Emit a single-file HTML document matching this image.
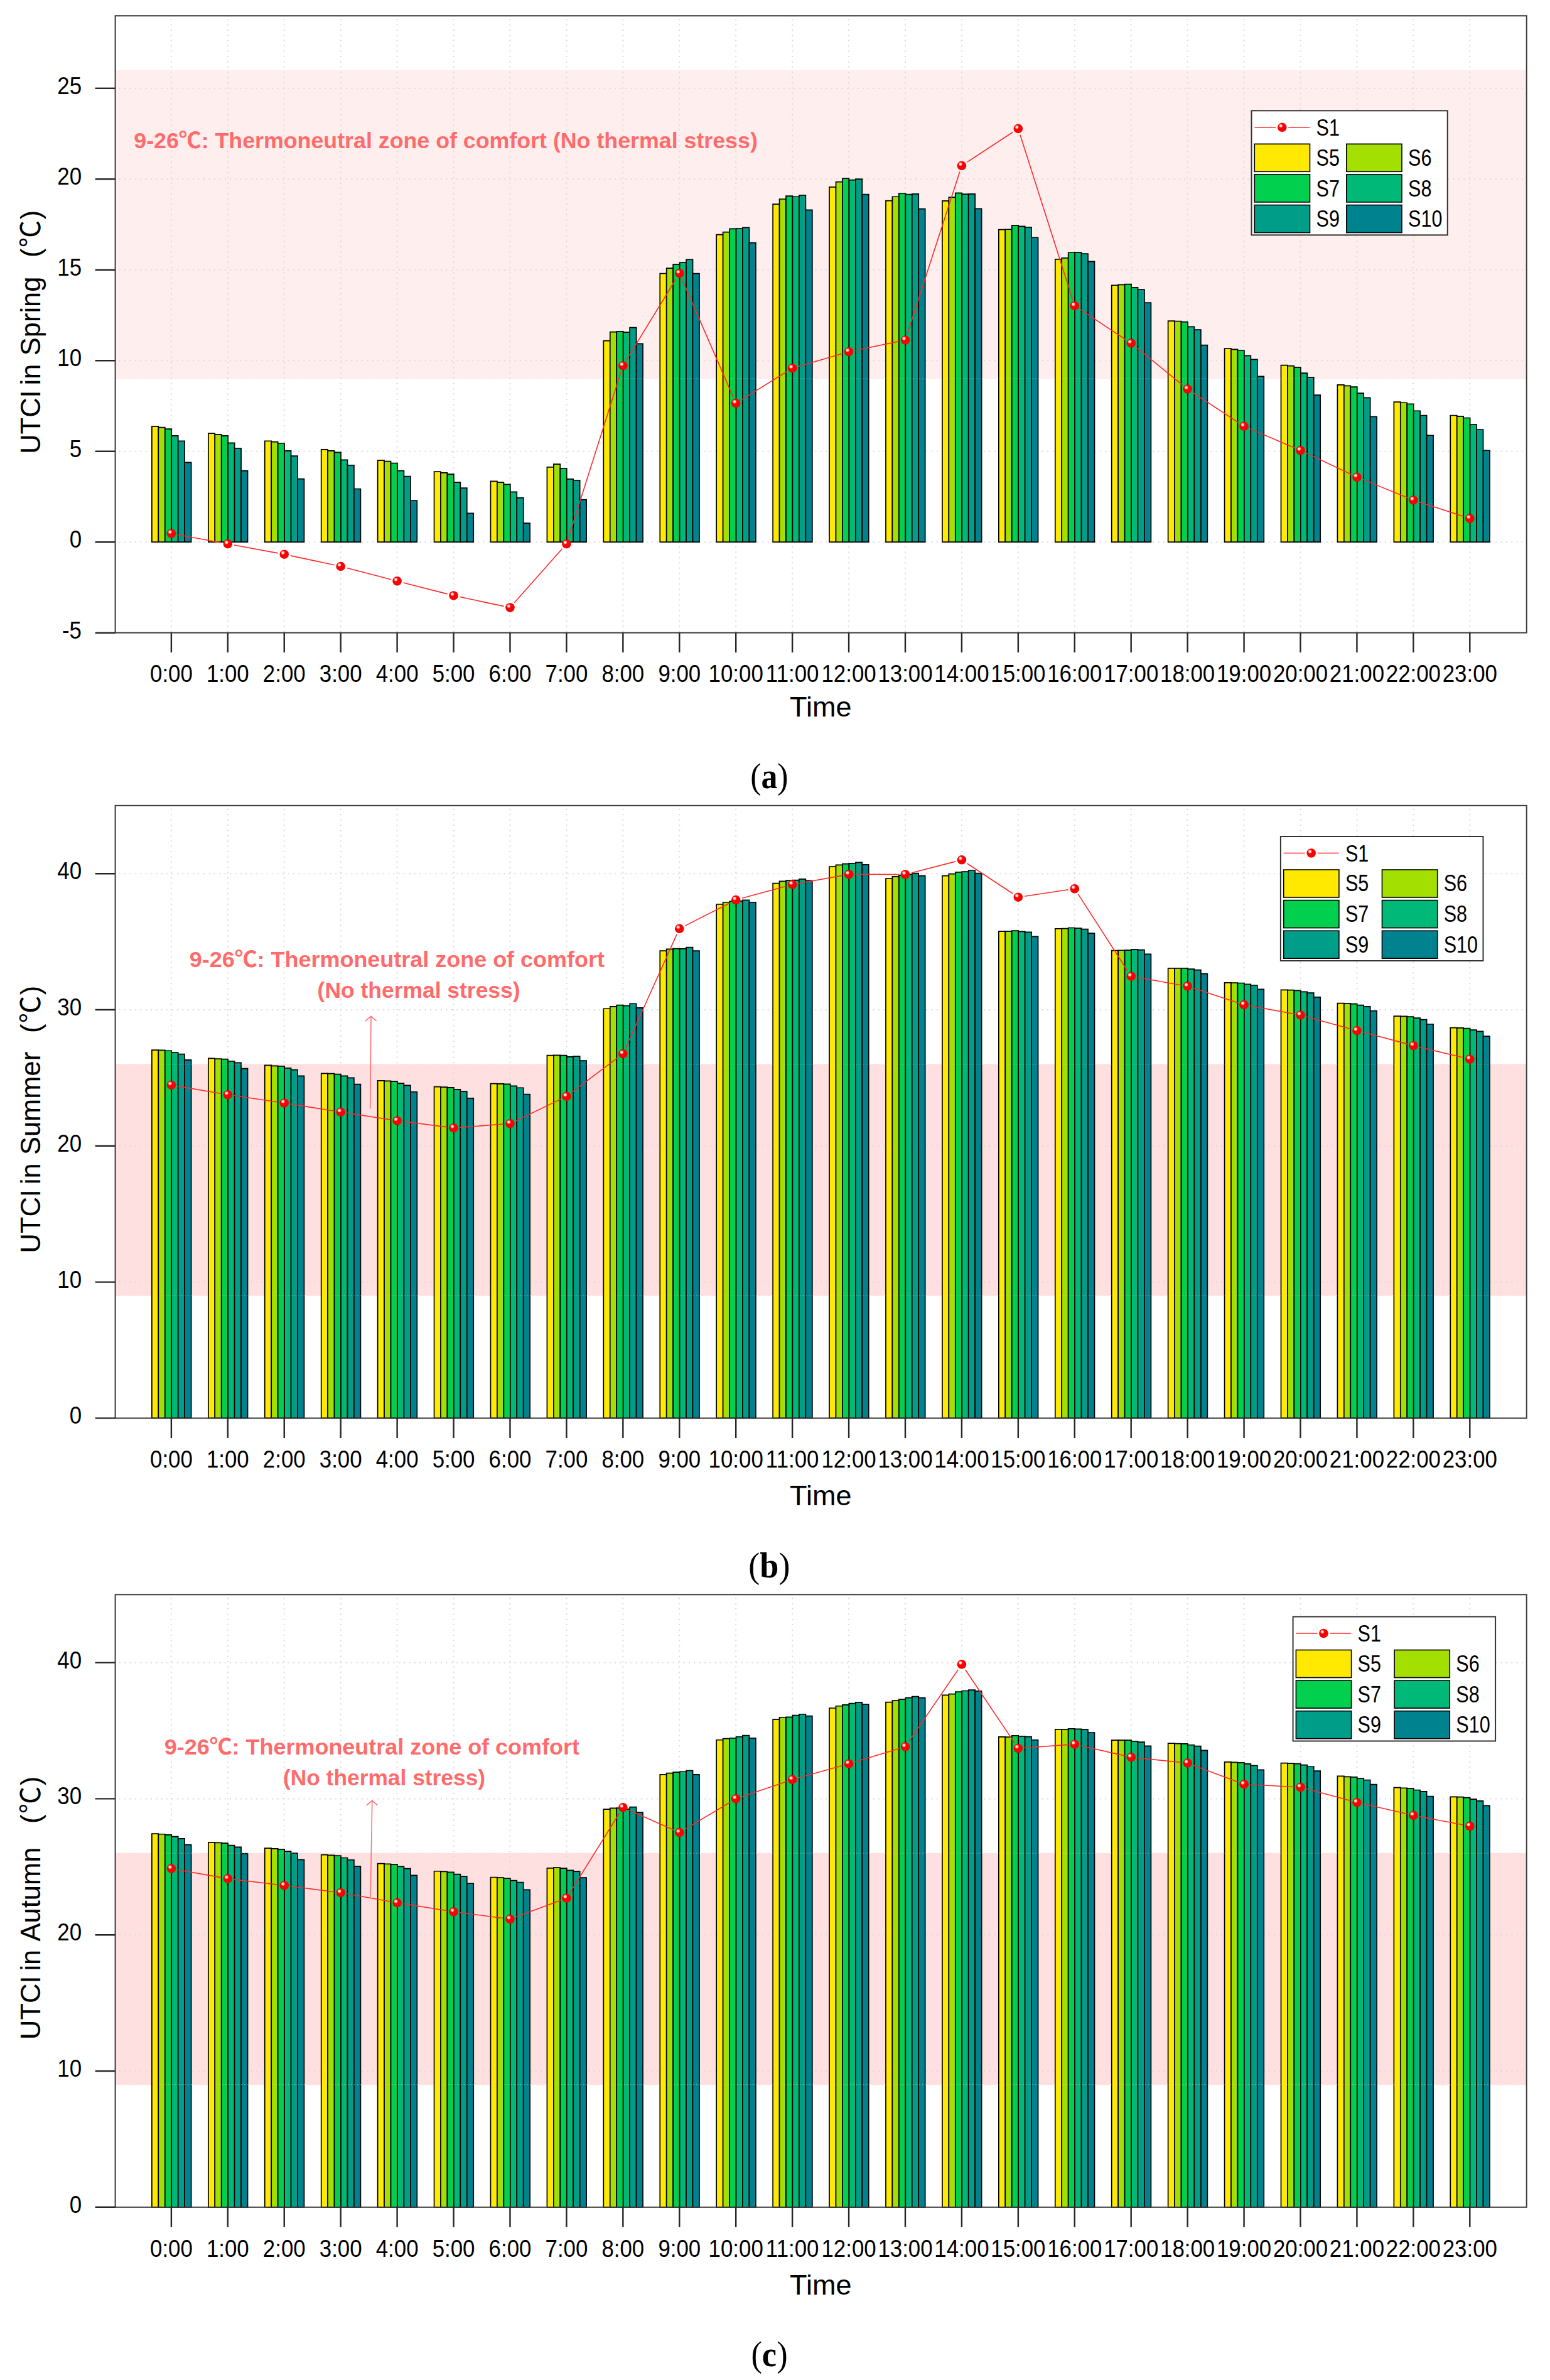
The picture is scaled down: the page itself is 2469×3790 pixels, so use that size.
<!DOCTYPE html>
<html lang="en"><head><meta charset="utf-8"><title>UTCI charts</title>
<style>html,body{margin:0;padding:0;background:#fff}svg{display:block}</style></head><body>
<svg width="2469" height="3790" viewBox="0 0 2469 3790">
<defs>
<radialGradient id="hl" cx="0.5" cy="0.5" r="0.5"><stop offset="0" stop-color="#fff" stop-opacity="1"/><stop offset="0.45" stop-color="#fff" stop-opacity="0.85"/><stop offset="1" stop-color="#fff" stop-opacity="0"/></radialGradient>
</defs>
<rect width="2469" height="3790" fill="#fff"/>
<g>
<rect x="183.6" y="111.8" width="2248.1" height="491.3" fill="#FFEEEE"/>
<path d="M272.9 30.2V1007.6M362.83 30.2V1007.6M452.76 30.2V1007.6M542.69 30.2V1007.6M632.62 30.2V1007.6M722.55 30.2V1007.6M812.48 30.2V1007.6M902.41 30.2V1007.6M992.34 30.2V1007.6M1082.27 30.2V1007.6M1172.2 30.2V1007.6M1262.13 30.2V1007.6M1352.06 30.2V1007.6M1441.99 30.2V1007.6M1531.92 30.2V1007.6M1621.85 30.2V1007.6M1711.78 30.2V1007.6M1801.71 30.2V1007.6M1891.64 30.2V1007.6M1981.57 30.2V1007.6M2071.5 30.2V1007.6M2161.43 30.2V1007.6M2251.36 30.2V1007.6M2341.29 30.2V1007.6M189.6 863.2H2431.7M189.6 718.7H2431.7M189.6 574.2H2431.7M189.6 429.7H2431.7M189.6 285.2H2431.7M189.6 140.7H2431.7" stroke="#d9d9d9" stroke-width="2" stroke-dasharray="2 6.4" fill="none"/>
<path d="M241.9 863.2V678.82H252.35V863.2ZM331.83 863.2V690.09H342.28V863.2ZM421.76 863.2V702.23H432.21V863.2ZM511.69 863.2V715.81H522.14V863.2ZM601.62 863.2V733.15H612.07V863.2ZM691.55 863.2V751.07H702V863.2ZM781.48 863.2V766.38H791.93V863.2ZM871.41 863.2V743.84H881.86V863.2ZM961.34 863.2V542.7H971.79V863.2ZM1051.27 863.2V435.48H1061.72V863.2ZM1141.2 863.2V373.63H1151.65V863.2ZM1231.13 863.2V325.08H1241.58V863.2ZM1321.06 863.2V297.92H1331.51V863.2ZM1410.99 863.2V319.59H1421.44V863.2ZM1500.92 863.2V319.88H1511.37V863.2ZM1590.85 863.2V365.54H1601.3V863.2ZM1680.78 863.2V412.94H1691.23V863.2ZM1770.71 863.2V454.27H1781.16V863.2ZM1860.64 863.2V511.2H1871.09V863.2ZM1950.57 863.2V555.13H1961.02V863.2ZM2040.5 863.2V581.71H2050.95V863.2ZM2130.43 863.2V612.93H2140.88V863.2ZM2220.36 863.2V640.09H2230.81V863.2ZM2310.29 863.2V661.48H2320.74V863.2Z" fill="#FFE900" stroke="#000" stroke-width="1.7" stroke-linejoin="miter"/>
<path d="M252.35 863.2V680.55H262.8V863.2ZM342.28 863.2V691.82H352.73V863.2ZM432.21 863.2V703.67H442.66V863.2ZM522.14 863.2V717.83H532.59V863.2ZM612.07 863.2V734.6H622.52V863.2ZM702 863.2V752.8H712.45V863.2ZM791.93 863.2V768.12H802.38V863.2ZM881.86 863.2V739.22H892.31V863.2ZM971.79 863.2V528.54H982.24V863.2ZM1061.72 863.2V427.1H1072.17V863.2ZM1151.65 863.2V369.59H1162.1V863.2ZM1241.58 863.2V316.99H1252.03V863.2ZM1331.51 863.2V289.54H1341.96V863.2ZM1421.44 863.2V313.23H1431.89V863.2ZM1511.37 863.2V314.1H1521.82V863.2ZM1601.3 863.2V365.25H1611.75V863.2ZM1691.23 863.2V410.92H1701.68V863.2ZM1781.16 863.2V453.4H1791.61V863.2ZM1871.09 863.2V511.49H1881.54V863.2ZM1961.02 863.2V556.28H1971.47V863.2ZM2050.95 863.2V582.58H2061.4V863.2ZM2140.88 863.2V614.37H2151.33V863.2ZM2230.81 863.2V641.25H2241.26V863.2ZM2320.74 863.2V663.21H2331.19V863.2Z" fill="#A3DF00" stroke="#000" stroke-width="1.7" stroke-linejoin="miter"/>
<path d="M262.8 863.2V683.15H273.25V863.2ZM352.73 863.2V693.85H363.18V863.2ZM442.66 863.2V705.98H453.11V863.2ZM532.59 863.2V720.43H543.04V863.2ZM622.52 863.2V737.49H632.97V863.2ZM712.45 863.2V755.11H722.9V863.2ZM802.38 863.2V771.3H812.83V863.2ZM892.31 863.2V746.16H902.76V863.2ZM982.24 863.2V527.96H992.69V863.2ZM1072.17 863.2V421.03H1082.62V863.2ZM1162.1 863.2V364.39H1172.55V863.2ZM1252.03 863.2V312.08H1262.48V863.2ZM1341.96 863.2V284.04H1352.41V863.2ZM1431.89 863.2V307.74H1442.34V863.2ZM1521.82 863.2V307.45H1532.27V863.2ZM1611.75 863.2V358.9H1622.2V863.2ZM1701.68 863.2V402.25H1712.13V863.2ZM1791.61 863.2V452.53H1802.06V863.2ZM1881.54 863.2V512.64H1891.99V863.2ZM1971.47 863.2V558.02H1981.92V863.2ZM2061.4 863.2V584.89H2071.85V863.2ZM2151.33 863.2V616.11H2161.78V863.2ZM2241.26 863.2V643.27H2251.71V863.2ZM2331.19 863.2V665.52H2341.64V863.2Z" fill="#00D04E" stroke="#000" stroke-width="1.7" stroke-linejoin="miter"/>
<path d="M273.25 863.2V693.85H283.7V863.2ZM363.18 863.2V705.41H373.63V863.2ZM453.11 863.2V717.83H463.56V863.2ZM543.04 863.2V732.28H553.49V863.2ZM632.97 863.2V749.62H643.42V863.2ZM722.9 863.2V768.12H733.35V863.2ZM812.83 863.2V783.44H823.28V863.2ZM902.76 863.2V762.92H913.21V863.2ZM992.69 863.2V529.12H1003.14V863.2ZM1082.62 863.2V418.14H1093.07V863.2ZM1172.55 863.2V364.1H1183V863.2ZM1262.48 863.2V313.23H1272.93V863.2ZM1352.41 863.2V286.65H1362.86V863.2ZM1442.34 863.2V309.48H1452.79V863.2ZM1532.27 863.2V309.19H1542.72V863.2ZM1622.2 863.2V360.34H1632.65V863.2ZM1712.13 863.2V401.96H1722.58V863.2ZM1802.06 863.2V457.73H1812.51V863.2ZM1891.99 863.2V520.45H1902.44V863.2ZM1981.92 863.2V566.4H1992.37V863.2ZM2071.85 863.2V594.14H2082.3V863.2ZM2161.78 863.2V626.22H2172.23V863.2ZM2251.71 863.2V654.25H2262.16V863.2ZM2341.64 863.2V676.22H2352.09V863.2Z" fill="#00B878" stroke="#000" stroke-width="1.7" stroke-linejoin="miter"/>
<path d="M283.7 863.2V702.23H294.15V863.2ZM373.63 863.2V713.79H384.08V863.2ZM463.56 863.2V726.21H474.01V863.2ZM553.49 863.2V740.95H563.94V863.2ZM643.42 863.2V758.58H653.87V863.2ZM733.35 863.2V777.08H743.8V863.2ZM823.28 863.2V792.68H833.73V863.2ZM913.21 863.2V764.94H923.66V863.2ZM1003.14 863.2V521.6H1013.59V863.2ZM1093.07 863.2V413.23H1103.52V863.2ZM1183 863.2V362.36H1193.45V863.2ZM1272.93 863.2V310.92H1283.38V863.2ZM1362.86 863.2V285.2H1373.31V863.2ZM1452.79 863.2V308.9H1463.24V863.2ZM1542.72 863.2V308.9H1553.17V863.2ZM1632.65 863.2V361.79H1643.1V863.2ZM1722.58 863.2V403.98H1733.03V863.2ZM1812.51 863.2V461.2H1822.96V863.2ZM1902.44 863.2V525.07H1912.89V863.2ZM1992.37 863.2V572.47H2002.82V863.2ZM2082.3 863.2V600.79H2092.75V863.2ZM2172.23 863.2V633.45H2182.68V863.2ZM2262.16 863.2V661.48H2272.61V863.2ZM2352.09 863.2V684.02H2362.54V863.2Z" fill="#009E89" stroke="#000" stroke-width="1.7" stroke-linejoin="miter"/>
<path d="M294.15 863.2V736.33H304.6V863.2ZM384.08 863.2V749.62H394.53V863.2ZM474.01 863.2V762.63H484.46V863.2ZM563.94 863.2V778.52H574.39V863.2ZM653.87 863.2V797.02H664.32V863.2ZM743.8 863.2V817.25H754.25V863.2ZM833.73 863.2V833.14H844.18V863.2ZM923.66 863.2V795.57H934.11V863.2ZM1013.59 863.2V547.32H1024.04V863.2ZM1103.52 863.2V435.48H1113.97V863.2ZM1193.45 863.2V386.64H1203.9V863.2ZM1283.38 863.2V334.33H1293.83V863.2ZM1373.31 863.2V309.48H1383.76V863.2ZM1463.24 863.2V332.6H1473.69V863.2ZM1553.17 863.2V332.31H1563.62V863.2ZM1643.1 863.2V378.26H1653.55V863.2ZM1733.03 863.2V416.41H1743.48V863.2ZM1822.96 863.2V482.01H1833.41V863.2ZM1912.89 863.2V549.63H1923.34V863.2ZM2002.82 863.2V599.34H2013.27V863.2ZM2092.75 863.2V629.11H2103.2V863.2ZM2182.68 863.2V663.5H2193.13V863.2ZM2272.61 863.2V693.27H2283.06V863.2ZM2362.54 863.2V717.26H2372.99V863.2Z" fill="#00828F" stroke="#000" stroke-width="1.7" stroke-linejoin="miter"/>
<path d="M183.6 111.8H2431.7M183.6 603.1H2431.7" stroke="#FFD0D0" stroke-width="1.2" stroke-dasharray="2 3" fill="none" opacity="0.45"/>
<path d="M283.03 851.47L352.7 864.23M372.96 867.96L442.63 880.84M462.83 884.86L532.62 899.77M552.66 904.52L622.65 922.74M642.6 927.9L712.57 945.89M732.63 950.59L802.4 965.39M819.31 959.82L895.58 873.8M905.52 856.27L989.23 592.11M997.71 573.5L1076.9 443.98M1086.38 444.64L1168.09 632.67M1180.95 636.69L1253.38 591.77M1272.02 583.45L1342.17 562.93M1362.15 557.96L1431.9 543.62M1445.16 531.74L1528.75 273.61M1540.53 258.17L1613.24 210.51M1624.98 214.67L1708.65 477.11M1720.37 492.61L1793.12 540.77M1809.7 552.95L1883.65 613.08M1900.24 625.24L1972.97 673.15M1991.04 682.87L2062.03 713.21M2080.81 721.65L2152.12 755.34M2170.97 763.63L2241.82 792.55M2261.16 799.62L2331.49 822.45" stroke="#FF2A2A" stroke-width="1.6" fill="none"/>
<circle cx="272.9" cy="849.62" r="7.3" fill="#FB0000"/><circle cx="270.8" cy="847.22" r="3.4" fill="url(#hl)"/>
<circle cx="362.83" cy="866.09" r="7.3" fill="#FB0000"/><circle cx="360.73" cy="863.69" r="3.4" fill="url(#hl)"/>
<circle cx="452.76" cy="882.71" r="7.3" fill="#FB0000"/><circle cx="450.66" cy="880.31" r="3.4" fill="url(#hl)"/>
<circle cx="542.69" cy="901.93" r="7.3" fill="#FB0000"/><circle cx="540.59" cy="899.53" r="3.4" fill="url(#hl)"/>
<circle cx="632.62" cy="925.34" r="7.3" fill="#FB0000"/><circle cx="630.52" cy="922.94" r="3.4" fill="url(#hl)"/>
<circle cx="722.55" cy="948.46" r="7.3" fill="#FB0000"/><circle cx="720.45" cy="946.06" r="3.4" fill="url(#hl)"/>
<circle cx="812.48" cy="967.53" r="7.3" fill="#FB0000"/><circle cx="810.38" cy="965.13" r="3.4" fill="url(#hl)"/>
<circle cx="902.41" cy="866.09" r="7.3" fill="#FB0000"/><circle cx="900.31" cy="863.69" r="3.4" fill="url(#hl)"/>
<circle cx="992.34" cy="582.29" r="7.3" fill="#FB0000"/><circle cx="990.24" cy="579.89" r="3.4" fill="url(#hl)"/>
<circle cx="1082.27" cy="435.19" r="7.3" fill="#FB0000"/><circle cx="1080.17" cy="432.79" r="3.4" fill="url(#hl)"/>
<circle cx="1172.2" cy="642.12" r="7.3" fill="#FB0000"/><circle cx="1170.1" cy="639.72" r="3.4" fill="url(#hl)"/>
<circle cx="1262.13" cy="586.34" r="7.3" fill="#FB0000"/><circle cx="1260.03" cy="583.94" r="3.4" fill="url(#hl)"/>
<circle cx="1352.06" cy="560.04" r="7.3" fill="#FB0000"/><circle cx="1349.96" cy="557.64" r="3.4" fill="url(#hl)"/>
<circle cx="1441.99" cy="541.54" r="7.3" fill="#FB0000"/><circle cx="1439.89" cy="539.14" r="3.4" fill="url(#hl)"/>
<circle cx="1531.92" cy="263.81" r="7.3" fill="#FB0000"/><circle cx="1529.82" cy="261.41" r="3.4" fill="url(#hl)"/>
<circle cx="1621.85" cy="204.86" r="7.3" fill="#FB0000"/><circle cx="1619.75" cy="202.46" r="3.4" fill="url(#hl)"/>
<circle cx="1711.78" cy="486.92" r="7.3" fill="#FB0000"/><circle cx="1709.68" cy="484.52" r="3.4" fill="url(#hl)"/>
<circle cx="1801.71" cy="546.46" r="7.3" fill="#FB0000"/><circle cx="1799.61" cy="544.06" r="3.4" fill="url(#hl)"/>
<circle cx="1891.64" cy="619.57" r="7.3" fill="#FB0000"/><circle cx="1889.54" cy="617.17" r="3.4" fill="url(#hl)"/>
<circle cx="1981.57" cy="678.82" r="7.3" fill="#FB0000"/><circle cx="1979.47" cy="676.42" r="3.4" fill="url(#hl)"/>
<circle cx="2071.5" cy="717.26" r="7.3" fill="#FB0000"/><circle cx="2069.4" cy="714.86" r="3.4" fill="url(#hl)"/>
<circle cx="2161.43" cy="759.74" r="7.3" fill="#FB0000"/><circle cx="2159.33" cy="757.34" r="3.4" fill="url(#hl)"/>
<circle cx="2251.36" cy="796.44" r="7.3" fill="#FB0000"/><circle cx="2249.26" cy="794.04" r="3.4" fill="url(#hl)"/>
<circle cx="2341.29" cy="825.63" r="7.3" fill="#FB0000"/><circle cx="2339.19" cy="823.23" r="3.4" fill="url(#hl)"/>
<rect x="183.6" y="25.2" width="2248.1" height="982.4" fill="none" stroke="#3a3a3a" stroke-width="2"/>
<path d="M272.9 1007.6V1039.1M362.83 1007.6V1039.1M452.76 1007.6V1039.1M542.69 1007.6V1039.1M632.62 1007.6V1039.1M722.55 1007.6V1039.1M812.48 1007.6V1039.1M902.41 1007.6V1039.1M992.34 1007.6V1039.1M1082.27 1007.6V1039.1M1172.2 1007.6V1039.1M1262.13 1007.6V1039.1M1352.06 1007.6V1039.1M1441.99 1007.6V1039.1M1531.92 1007.6V1039.1M1621.85 1007.6V1039.1M1711.78 1007.6V1039.1M1801.71 1007.6V1039.1M1891.64 1007.6V1039.1M1981.57 1007.6V1039.1M2071.5 1007.6V1039.1M2161.43 1007.6V1039.1M2251.36 1007.6V1039.1M2341.29 1007.6V1039.1M183.6 1007.7H151.6M183.6 863.2H151.6M183.6 718.7H151.6M183.6 574.2H151.6M183.6 429.7H151.6M183.6 285.2H151.6M183.6 140.7H151.6" stroke="#262626" stroke-width="2.4" fill="none"/>
<g font-family='"Liberation Sans","Noto Sans CJK SC",sans-serif' font-size="38" fill="#000">
<g text-anchor="middle">
<text transform="translate(272.9 1085.8) scale(0.917 1)">0:00</text>
<text transform="translate(362.83 1085.8) scale(0.917 1)">1:00</text>
<text transform="translate(452.76 1085.8) scale(0.917 1)">2:00</text>
<text transform="translate(542.69 1085.8) scale(0.917 1)">3:00</text>
<text transform="translate(632.62 1085.8) scale(0.917 1)">4:00</text>
<text transform="translate(722.55 1085.8) scale(0.917 1)">5:00</text>
<text transform="translate(812.48 1085.8) scale(0.917 1)">6:00</text>
<text transform="translate(902.41 1085.8) scale(0.917 1)">7:00</text>
<text transform="translate(992.34 1085.8) scale(0.917 1)">8:00</text>
<text transform="translate(1082.27 1085.8) scale(0.917 1)">9:00</text>
<text transform="translate(1172.2 1085.8) scale(0.917 1)">10:00</text>
<text transform="translate(1262.13 1085.8) scale(0.917 1)">11:00</text>
<text transform="translate(1352.06 1085.8) scale(0.917 1)">12:00</text>
<text transform="translate(1441.99 1085.8) scale(0.917 1)">13:00</text>
<text transform="translate(1531.92 1085.8) scale(0.917 1)">14:00</text>
<text transform="translate(1621.85 1085.8) scale(0.917 1)">15:00</text>
<text transform="translate(1711.78 1085.8) scale(0.917 1)">16:00</text>
<text transform="translate(1801.71 1085.8) scale(0.917 1)">17:00</text>
<text transform="translate(1891.64 1085.8) scale(0.917 1)">18:00</text>
<text transform="translate(1981.57 1085.8) scale(0.917 1)">19:00</text>
<text transform="translate(2071.5 1085.8) scale(0.917 1)">20:00</text>
<text transform="translate(2161.43 1085.8) scale(0.917 1)">21:00</text>
<text transform="translate(2251.36 1085.8) scale(0.917 1)">22:00</text>
<text transform="translate(2341.29 1085.8) scale(0.917 1)">23:00</text>
</g>
<g text-anchor="end">
<text transform="translate(130 1016.7) scale(0.917 1)">-5</text>
<text transform="translate(130 872.2) scale(0.917 1)">0</text>
<text transform="translate(130 727.7) scale(0.917 1)">5</text>
<text transform="translate(130 583.2) scale(0.917 1)">10</text>
<text transform="translate(130 438.7) scale(0.917 1)">15</text>
<text transform="translate(130 294.2) scale(0.917 1)">20</text>
<text transform="translate(130 149.7) scale(0.917 1)">25</text>
</g>
</g>
<text transform="translate(1307.25 1140.6) scale(1.035 1)" text-anchor="middle" font-family='"Liberation Sans","Noto Sans CJK SC",sans-serif' font-size="43.5" fill="#000">Time</text>
<text transform="translate(64.3 719.4) rotate(-90)" font-family='"Liberation Sans","Noto Sans CJK SC",sans-serif' font-size="43.5" fill="#000"><tspan x="-3.4">UTCI</tspan> <tspan x="106">in</tspan> <tspan x="153.1">Spring</tspan> <tspan x="309.3" letter-spacing="1.4">(℃)</tspan></text>
<g>
<rect x="1993.5" y="176.3" width="312.3" height="198" fill="#fff" stroke="#333" stroke-width="2"/>
<path d="M1998.3 202.8H2086.3" stroke="#FF2A2A" stroke-width="1.6"/>
<circle cx="2042.3" cy="202.8" r="10" fill="#fff"/>
<circle cx="2042.3" cy="202.8" r="7.3" fill="#FB0000"/><circle cx="2040.2" cy="200.4" r="3.4" fill="url(#hl)"/>
<rect x="1998.3" y="229.3" width="88.2" height="44" fill="#FFE900" stroke="#000" stroke-width="1.6"/>
<rect x="2144.8" y="229.3" width="88.2" height="44" fill="#A3DF00" stroke="#000" stroke-width="1.6"/>
<rect x="1998.3" y="277.9" width="88.2" height="44" fill="#00D04E" stroke="#000" stroke-width="1.6"/>
<rect x="2144.8" y="277.9" width="88.2" height="44" fill="#00B878" stroke="#000" stroke-width="1.6"/>
<rect x="1998.3" y="326.5" width="88.2" height="44" fill="#009E89" stroke="#000" stroke-width="1.6"/>
<rect x="2144.8" y="326.5" width="88.2" height="44" fill="#00828F" stroke="#000" stroke-width="1.6"/>
<g font-family='"Liberation Sans","Noto Sans CJK SC",sans-serif' font-size="36.4" fill="#000">
<text transform="translate(2096.5 215.8) scale(0.84 1)">S1</text>
<text transform="translate(2096.5 263.6) scale(0.84 1)">S5</text>
<text transform="translate(2243 263.6) scale(0.84 1)">S6</text>
<text transform="translate(2096.5 312.6) scale(0.84 1)">S7</text>
<text transform="translate(2243 312.6) scale(0.84 1)">S8</text>
<text transform="translate(2096.5 361) scale(0.84 1)">S9</text>
<text transform="translate(2243 361) scale(0.84 1)">S10</text>
</g></g>
<text x="213.3" y="236" font-family='"Liberation Sans","Noto Sans CJK SC",sans-serif' font-size="35" font-weight="bold" fill="#FF6B6B" textLength="993.5" lengthAdjust="spacingAndGlyphs">9-26℃: Thermoneutral zone of comfort (No thermal stress)</text>
<text transform="translate(1225.4 1255.4) scale(0.91 1)" text-anchor="middle" font-family='"Liberation Serif","Noto Serif CJK SC",serif' font-size="57" fill="#000">(<tspan font-weight="bold">a</tspan>)</text>
</g>
<g>
<rect x="183.6" y="1694.72" width="2248.1" height="368.56" fill="#FFE0E1"/>
<path d="M272.9 1287.8V2258.4M362.83 1287.8V2258.4M452.76 1287.8V2258.4M542.69 1287.8V2258.4M632.62 1287.8V2258.4M722.55 1287.8V2258.4M812.48 1287.8V2258.4M902.41 1287.8V2258.4M992.34 1287.8V2258.4M1082.27 1287.8V2258.4M1172.2 1287.8V2258.4M1262.13 1287.8V2258.4M1352.06 1287.8V2258.4M1441.99 1287.8V2258.4M1531.92 1287.8V2258.4M1621.85 1287.8V2258.4M1711.78 1287.8V2258.4M1801.71 1287.8V2258.4M1891.64 1287.8V2258.4M1981.57 1287.8V2258.4M2071.5 1287.8V2258.4M2161.43 1287.8V2258.4M2251.36 1287.8V2258.4M2341.29 1287.8V2258.4M189.6 2041.6H2431.7M189.6 1824.8H2431.7M189.6 1608H2431.7M189.6 1391.2H2431.7" stroke="#d9d9d9" stroke-width="2" stroke-dasharray="2 6.4" fill="none"/>
<path d="M241.9 2258.4V1672.17H252.35V2258.4ZM331.83 2258.4V1685.4H342.28V2258.4ZM421.76 2258.4V1696.45H432.21V2258.4ZM511.69 2258.4V1709.46H522.14V2258.4ZM601.62 2258.4V1720.95H612.07V2258.4ZM691.55 2258.4V1730.71H702V2258.4ZM781.48 2258.4V1725.72H791.93V2258.4ZM871.41 2258.4V1680.63H881.86V2258.4ZM961.34 2258.4V1606.27H971.79V2258.4ZM1051.27 2258.4V1514.13H1061.72V2258.4ZM1141.2 2258.4V1439.98H1151.65V2258.4ZM1231.13 2258.4V1406.59H1241.58V2258.4ZM1321.06 2258.4V1380.14H1331.51V2258.4ZM1410.99 2258.4V1399.22H1421.44V2258.4ZM1500.92 2258.4V1394.67H1511.37V2258.4ZM1590.85 2258.4V1483.12H1601.3V2258.4ZM1680.78 2258.4V1478.79H1691.23V2258.4ZM1770.71 2258.4V1513.69H1781.16V2258.4ZM1860.64 2258.4V1541.88H1871.09V2258.4ZM1950.57 2258.4V1564.86H1961.02V2258.4ZM2040.5 2258.4V1576.35H2050.95V2258.4ZM2130.43 2258.4V1597.59H2140.88V2258.4ZM2220.36 2258.4V1618.19H2230.81V2258.4ZM2310.29 2258.4V1636.62H2320.74V2258.4Z" fill="#FFE900" stroke="#000" stroke-width="1.7" stroke-linejoin="miter"/>
<path d="M252.35 2258.4V1672.39H262.8V2258.4ZM342.28 2258.4V1686.05H352.73V2258.4ZM432.21 2258.4V1697.32H442.66V2258.4ZM522.14 2258.4V1709.68H532.59V2258.4ZM612.07 2258.4V1721.39H622.52V2258.4ZM702 2258.4V1731.14H712.45V2258.4ZM791.93 2258.4V1725.94H802.38V2258.4ZM881.86 2258.4V1680.41H892.31V2258.4ZM971.79 2258.4V1602.8H982.24V2258.4ZM1061.72 2258.4V1511.31H1072.17V2258.4ZM1151.65 2258.4V1436.73H1162.1V2258.4ZM1241.58 2258.4V1403.34H1252.03V2258.4ZM1331.51 2258.4V1377.32H1341.96V2258.4ZM1421.44 2258.4V1395.97H1431.89V2258.4ZM1511.37 2258.4V1391.63H1521.82V2258.4ZM1601.3 2258.4V1483.12H1611.75V2258.4ZM1691.23 2258.4V1478.57H1701.68V2258.4ZM1781.16 2258.4V1513.26H1791.61V2258.4ZM1871.09 2258.4V1541.88H1881.54V2258.4ZM1961.02 2258.4V1565.07H1971.47V2258.4ZM2050.95 2258.4V1576.56H2061.4V2258.4ZM2140.88 2258.4V1597.81H2151.33V2258.4ZM2230.81 2258.4V1618.41H2241.26V2258.4ZM2320.74 2258.4V1636.83H2331.19V2258.4Z" fill="#A3DF00" stroke="#000" stroke-width="1.7" stroke-linejoin="miter"/>
<path d="M262.8 2258.4V1673.26H273.25V2258.4ZM352.73 2258.4V1686.7H363.18V2258.4ZM442.66 2258.4V1697.97H453.11V2258.4ZM532.59 2258.4V1710.55H543.04V2258.4ZM622.52 2258.4V1722.04H632.97V2258.4ZM712.45 2258.4V1731.79H722.9V2258.4ZM802.38 2258.4V1726.37H812.83V2258.4ZM892.31 2258.4V1680.63H902.76V2258.4ZM982.24 2258.4V1600.63H992.69V2258.4ZM1072.17 2258.4V1510.66H1082.62V2258.4ZM1162.1 2258.4V1435.43H1172.55V2258.4ZM1252.03 2258.4V1402.04H1262.48V2258.4ZM1341.96 2258.4V1375.59H1352.41V2258.4ZM1431.89 2258.4V1393.58H1442.34V2258.4ZM1521.82 2258.4V1388.82H1532.27V2258.4ZM1611.75 2258.4V1482.04H1622.2V2258.4ZM1701.68 2258.4V1477.49H1712.13V2258.4ZM1791.61 2258.4V1513.04H1802.06V2258.4ZM1881.54 2258.4V1541.88H1891.99V2258.4ZM1971.47 2258.4V1565.51H1981.92V2258.4ZM2061.4 2258.4V1577.43H2071.85V2258.4ZM2151.33 2258.4V1598.68H2161.78V2258.4ZM2241.26 2258.4V1619.06H2251.71V2258.4ZM2331.19 2258.4V1637.7H2341.64V2258.4Z" fill="#00D04E" stroke="#000" stroke-width="1.7" stroke-linejoin="miter"/>
<path d="M273.25 2258.4V1676.08H283.7V2258.4ZM363.18 2258.4V1689.95H373.63V2258.4ZM453.11 2258.4V1700.79H463.56V2258.4ZM543.04 2258.4V1713.36H553.49V2258.4ZM632.97 2258.4V1725.07H643.42V2258.4ZM722.9 2258.4V1734.83H733.35V2258.4ZM812.83 2258.4V1729.41H823.28V2258.4ZM902.76 2258.4V1682.8H913.21V2258.4ZM992.69 2258.4V1601.71H1003.14V2258.4ZM1082.62 2258.4V1510.87H1093.07V2258.4ZM1172.55 2258.4V1434.78H1183V2258.4ZM1262.48 2258.4V1401.61H1272.93V2258.4ZM1352.41 2258.4V1374.94H1362.86V2258.4ZM1442.34 2258.4V1392.5H1452.79V2258.4ZM1532.27 2258.4V1388.16H1542.72V2258.4ZM1622.2 2258.4V1483.34H1632.65V2258.4ZM1712.13 2258.4V1478.14H1722.58V2258.4ZM1802.06 2258.4V1511.96H1812.51V2258.4ZM1891.99 2258.4V1543.18H1902.44V2258.4ZM1981.92 2258.4V1567.24H1992.37V2258.4ZM2071.85 2258.4V1579.38H2082.3V2258.4ZM2161.78 2258.4V1600.63H2172.23V2258.4ZM2251.71 2258.4V1621.22H2262.16V2258.4ZM2341.64 2258.4V1640.09H2352.09V2258.4Z" fill="#00B878" stroke="#000" stroke-width="1.7" stroke-linejoin="miter"/>
<path d="M283.7 2258.4V1678.68H294.15V2258.4ZM373.63 2258.4V1692.34H384.08V2258.4ZM463.56 2258.4V1703.61H474.01V2258.4ZM553.49 2258.4V1716.4H563.94V2258.4ZM643.42 2258.4V1728.32H653.87V2258.4ZM733.35 2258.4V1738.08H743.8V2258.4ZM823.28 2258.4V1732.23H833.73V2258.4ZM913.21 2258.4V1682.15H923.66V2258.4ZM1003.14 2258.4V1598.24H1013.59V2258.4ZM1093.07 2258.4V1508.49H1103.52V2258.4ZM1183 2258.4V1433.26H1193.45V2258.4ZM1272.93 2258.4V1399.87H1283.38V2258.4ZM1362.86 2258.4V1373.42H1373.31V2258.4ZM1452.79 2258.4V1390.55H1463.24V2258.4ZM1542.72 2258.4V1386H1553.17V2258.4ZM1632.65 2258.4V1484.42H1643.1V2258.4ZM1722.58 2258.4V1479.65H1733.03V2258.4ZM1812.51 2258.4V1512.61H1822.96V2258.4ZM1902.44 2258.4V1544.69H1912.89V2258.4ZM1992.37 2258.4V1568.98H2002.82V2258.4ZM2082.3 2258.4V1581.12H2092.75V2258.4ZM2172.23 2258.4V1602.8H2182.68V2258.4ZM2262.16 2258.4V1623.61H2272.61V2258.4ZM2352.09 2258.4V1642.47H2362.54V2258.4Z" fill="#009E89" stroke="#000" stroke-width="1.7" stroke-linejoin="miter"/>
<path d="M294.15 2258.4V1687.78H304.6V2258.4ZM384.08 2258.4V1701.66H394.53V2258.4ZM474.01 2258.4V1713.36H484.46V2258.4ZM563.94 2258.4V1726.59H574.39V2258.4ZM653.87 2258.4V1738.73H664.32V2258.4ZM743.8 2258.4V1748.92H754.25V2258.4ZM833.73 2258.4V1742.63H844.18V2258.4ZM923.66 2258.4V1689.08H934.11V2258.4ZM1013.59 2258.4V1604.96H1024.04V2258.4ZM1103.52 2258.4V1514.13H1113.97V2258.4ZM1193.45 2258.4V1436.73H1203.9V2258.4ZM1283.38 2258.4V1402.26H1293.83V2258.4ZM1373.31 2258.4V1376.89H1383.76V2258.4ZM1463.24 2258.4V1394.67H1473.69V2258.4ZM1553.17 2258.4V1390.55H1563.62V2258.4ZM1643.1 2258.4V1491.36H1653.55V2258.4ZM1733.03 2258.4V1486.16H1743.48V2258.4ZM1822.96 2258.4V1519.33H1833.41V2258.4ZM1912.89 2258.4V1550.55H1923.34V2258.4ZM2002.82 2258.4V1575.26H2013.27V2258.4ZM2092.75 2258.4V1587.84H2103.2V2258.4ZM2182.68 2258.4V1609.73H2193.13V2258.4ZM2272.61 2258.4V1630.98H2283.06V2258.4ZM2362.54 2258.4V1650.06H2372.99V2258.4Z" fill="#00828F" stroke="#000" stroke-width="1.7" stroke-linejoin="miter"/>
<path d="M183.6 1694.72H2431.7M183.6 2063.28H2431.7" stroke="#FFC0C0" stroke-width="1.2" stroke-dasharray="2 3" fill="none" opacity="0.45"/>
<path d="M283.05 1729.63L352.68 1741.55M373.02 1744.78L442.57 1755.01M462.93 1758.13L532.52 1769.2M552.87 1772.39L622.44 1783.12M642.84 1786L712.33 1794.88M732.82 1795.39L802.21 1790.04M821.76 1784.77L893.13 1750.36M910.63 1739.68L984.12 1684.23M996.58 1668.64L1078.03 1488.18M1091.45 1474.12L1163.02 1437.71M1182.14 1430.34L1252.19 1411.25M1272.27 1406.71L1341.92 1394.12M1362.36 1392.31L1431.69 1392.48M1451.96 1389.93L1521.95 1371.88M1540.51 1374.98L1613.26 1423.03M1632.04 1427.18L1701.59 1416.79M1717.36 1423.92L1796.13 1546.01M1811.85 1556.45L1881.5 1568.71M1901.43 1573.7L1971.78 1596.77M1991.7 1601.83L2061.37 1614.6M2081.43 1619.18L2151.5 1638.44M2171.39 1643.81L2241.4 1662.38M2261.37 1667.43L2331.28 1684.28" stroke="#FF2A2A" stroke-width="1.6" fill="none"/>
<circle cx="272.9" cy="1727.89" r="7.3" fill="#FB0000"/><circle cx="270.8" cy="1725.49" r="3.4" fill="url(#hl)"/>
<circle cx="362.83" cy="1743.28" r="7.3" fill="#FB0000"/><circle cx="360.73" cy="1740.88" r="3.4" fill="url(#hl)"/>
<circle cx="452.76" cy="1756.51" r="7.3" fill="#FB0000"/><circle cx="450.66" cy="1754.11" r="3.4" fill="url(#hl)"/>
<circle cx="542.69" cy="1770.82" r="7.3" fill="#FB0000"/><circle cx="540.59" cy="1768.42" r="3.4" fill="url(#hl)"/>
<circle cx="632.62" cy="1784.69" r="7.3" fill="#FB0000"/><circle cx="630.52" cy="1782.29" r="3.4" fill="url(#hl)"/>
<circle cx="722.55" cy="1796.18" r="7.3" fill="#FB0000"/><circle cx="720.45" cy="1793.78" r="3.4" fill="url(#hl)"/>
<circle cx="812.48" cy="1789.24" r="7.3" fill="#FB0000"/><circle cx="810.38" cy="1786.84" r="3.4" fill="url(#hl)"/>
<circle cx="902.41" cy="1745.88" r="7.3" fill="#FB0000"/><circle cx="900.31" cy="1743.48" r="3.4" fill="url(#hl)"/>
<circle cx="992.34" cy="1678.03" r="7.3" fill="#FB0000"/><circle cx="990.24" cy="1675.63" r="3.4" fill="url(#hl)"/>
<circle cx="1082.27" cy="1478.79" r="7.3" fill="#FB0000"/><circle cx="1080.17" cy="1476.39" r="3.4" fill="url(#hl)"/>
<circle cx="1172.2" cy="1433.04" r="7.3" fill="#FB0000"/><circle cx="1170.1" cy="1430.64" r="3.4" fill="url(#hl)"/>
<circle cx="1262.13" cy="1408.54" r="7.3" fill="#FB0000"/><circle cx="1260.03" cy="1406.14" r="3.4" fill="url(#hl)"/>
<circle cx="1352.06" cy="1392.28" r="7.3" fill="#FB0000"/><circle cx="1349.96" cy="1389.88" r="3.4" fill="url(#hl)"/>
<circle cx="1441.99" cy="1392.5" r="7.3" fill="#FB0000"/><circle cx="1439.89" cy="1390.1" r="3.4" fill="url(#hl)"/>
<circle cx="1531.92" cy="1369.3" r="7.3" fill="#FB0000"/><circle cx="1529.82" cy="1366.9" r="3.4" fill="url(#hl)"/>
<circle cx="1621.85" cy="1428.71" r="7.3" fill="#FB0000"/><circle cx="1619.75" cy="1426.31" r="3.4" fill="url(#hl)"/>
<circle cx="1711.78" cy="1415.26" r="7.3" fill="#FB0000"/><circle cx="1709.68" cy="1412.86" r="3.4" fill="url(#hl)"/>
<circle cx="1801.71" cy="1554.67" r="7.3" fill="#FB0000"/><circle cx="1799.61" cy="1552.27" r="3.4" fill="url(#hl)"/>
<circle cx="1891.64" cy="1570.49" r="7.3" fill="#FB0000"/><circle cx="1889.54" cy="1568.09" r="3.4" fill="url(#hl)"/>
<circle cx="1981.57" cy="1599.98" r="7.3" fill="#FB0000"/><circle cx="1979.47" cy="1597.58" r="3.4" fill="url(#hl)"/>
<circle cx="2071.5" cy="1616.46" r="7.3" fill="#FB0000"/><circle cx="2069.4" cy="1614.06" r="3.4" fill="url(#hl)"/>
<circle cx="2161.43" cy="1641.17" r="7.3" fill="#FB0000"/><circle cx="2159.33" cy="1638.77" r="3.4" fill="url(#hl)"/>
<circle cx="2251.36" cy="1665.02" r="7.3" fill="#FB0000"/><circle cx="2249.26" cy="1662.62" r="3.4" fill="url(#hl)"/>
<circle cx="2341.29" cy="1686.7" r="7.3" fill="#FB0000"/><circle cx="2339.19" cy="1684.3" r="3.4" fill="url(#hl)"/>
<rect x="183.6" y="1282.8" width="2248.1" height="975.6" fill="none" stroke="#3a3a3a" stroke-width="2"/>
<path d="M272.9 2258.4V2289.9M362.83 2258.4V2289.9M452.76 2258.4V2289.9M542.69 2258.4V2289.9M632.62 2258.4V2289.9M722.55 2258.4V2289.9M812.48 2258.4V2289.9M902.41 2258.4V2289.9M992.34 2258.4V2289.9M1082.27 2258.4V2289.9M1172.2 2258.4V2289.9M1262.13 2258.4V2289.9M1352.06 2258.4V2289.9M1441.99 2258.4V2289.9M1531.92 2258.4V2289.9M1621.85 2258.4V2289.9M1711.78 2258.4V2289.9M1801.71 2258.4V2289.9M1891.64 2258.4V2289.9M1981.57 2258.4V2289.9M2071.5 2258.4V2289.9M2161.43 2258.4V2289.9M2251.36 2258.4V2289.9M2341.29 2258.4V2289.9M183.6 2258.4H151.6M183.6 2041.6H151.6M183.6 1824.8H151.6M183.6 1608H151.6M183.6 1391.2H151.6" stroke="#262626" stroke-width="2.4" fill="none"/>
<g font-family='"Liberation Sans","Noto Sans CJK SC",sans-serif' font-size="38" fill="#000">
<g text-anchor="middle">
<text transform="translate(272.9 2336.8) scale(0.917 1)">0:00</text>
<text transform="translate(362.83 2336.8) scale(0.917 1)">1:00</text>
<text transform="translate(452.76 2336.8) scale(0.917 1)">2:00</text>
<text transform="translate(542.69 2336.8) scale(0.917 1)">3:00</text>
<text transform="translate(632.62 2336.8) scale(0.917 1)">4:00</text>
<text transform="translate(722.55 2336.8) scale(0.917 1)">5:00</text>
<text transform="translate(812.48 2336.8) scale(0.917 1)">6:00</text>
<text transform="translate(902.41 2336.8) scale(0.917 1)">7:00</text>
<text transform="translate(992.34 2336.8) scale(0.917 1)">8:00</text>
<text transform="translate(1082.27 2336.8) scale(0.917 1)">9:00</text>
<text transform="translate(1172.2 2336.8) scale(0.917 1)">10:00</text>
<text transform="translate(1262.13 2336.8) scale(0.917 1)">11:00</text>
<text transform="translate(1352.06 2336.8) scale(0.917 1)">12:00</text>
<text transform="translate(1441.99 2336.8) scale(0.917 1)">13:00</text>
<text transform="translate(1531.92 2336.8) scale(0.917 1)">14:00</text>
<text transform="translate(1621.85 2336.8) scale(0.917 1)">15:00</text>
<text transform="translate(1711.78 2336.8) scale(0.917 1)">16:00</text>
<text transform="translate(1801.71 2336.8) scale(0.917 1)">17:00</text>
<text transform="translate(1891.64 2336.8) scale(0.917 1)">18:00</text>
<text transform="translate(1981.57 2336.8) scale(0.917 1)">19:00</text>
<text transform="translate(2071.5 2336.8) scale(0.917 1)">20:00</text>
<text transform="translate(2161.43 2336.8) scale(0.917 1)">21:00</text>
<text transform="translate(2251.36 2336.8) scale(0.917 1)">22:00</text>
<text transform="translate(2341.29 2336.8) scale(0.917 1)">23:00</text>
</g>
<g text-anchor="end">
<text transform="translate(130 2267.4) scale(0.917 1)">0</text>
<text transform="translate(130 2050.6) scale(0.917 1)">10</text>
<text transform="translate(130 1833.8) scale(0.917 1)">20</text>
<text transform="translate(130 1617) scale(0.917 1)">30</text>
<text transform="translate(130 1400.2) scale(0.917 1)">40</text>
</g>
</g>
<text transform="translate(1307.25 2397.1) scale(1.035 1)" text-anchor="middle" font-family='"Liberation Sans","Noto Sans CJK SC",sans-serif' font-size="43.5" fill="#000">Time</text>
<text transform="translate(64.3 1992.2) rotate(-90)" font-family='"Liberation Sans","Noto Sans CJK SC",sans-serif' font-size="43.5" fill="#000"><tspan x="-3.4">UTCI</tspan> <tspan x="106">in</tspan> <tspan x="153.1">Summer</tspan> <tspan x="347.1" letter-spacing="1.4">(℃)</tspan></text>
<g>
<rect x="2039.9" y="1332" width="322.6" height="198" fill="#fff" stroke="#333" stroke-width="2"/>
<path d="M2044.7 1358.5H2132.7" stroke="#FF2A2A" stroke-width="1.6"/>
<circle cx="2088.7" cy="1358.5" r="10" fill="#fff"/>
<circle cx="2088.7" cy="1358.5" r="7.3" fill="#FB0000"/><circle cx="2086.6" cy="1356.1" r="3.4" fill="url(#hl)"/>
<rect x="2044.7" y="1385" width="88.2" height="44" fill="#FFE900" stroke="#000" stroke-width="1.6"/>
<rect x="2201.5" y="1385" width="88.2" height="44" fill="#A3DF00" stroke="#000" stroke-width="1.6"/>
<rect x="2044.7" y="1433.6" width="88.2" height="44" fill="#00D04E" stroke="#000" stroke-width="1.6"/>
<rect x="2201.5" y="1433.6" width="88.2" height="44" fill="#00B878" stroke="#000" stroke-width="1.6"/>
<rect x="2044.7" y="1482.2" width="88.2" height="44" fill="#009E89" stroke="#000" stroke-width="1.6"/>
<rect x="2201.5" y="1482.2" width="88.2" height="44" fill="#00828F" stroke="#000" stroke-width="1.6"/>
<g font-family='"Liberation Sans","Noto Sans CJK SC",sans-serif' font-size="36.4" fill="#000">
<text transform="translate(2142.9 1371.5) scale(0.84 1)">S1</text>
<text transform="translate(2142.9 1419.3) scale(0.84 1)">S5</text>
<text transform="translate(2299.7 1419.3) scale(0.84 1)">S6</text>
<text transform="translate(2142.9 1468.3) scale(0.84 1)">S7</text>
<text transform="translate(2299.7 1468.3) scale(0.84 1)">S8</text>
<text transform="translate(2142.9 1516.7) scale(0.84 1)">S9</text>
<text transform="translate(2299.7 1516.7) scale(0.84 1)">S10</text>
</g></g>
<text x="301.7" y="1539.8" font-family='"Liberation Sans","Noto Sans CJK SC",sans-serif' font-size="35" font-weight="bold" fill="#FF6B6B" textLength="661.2" lengthAdjust="spacingAndGlyphs">9-26℃: Thermoneutral zone of comfort</text>
<text x="505.6" y="1588.5" font-family='"Liberation Sans","Noto Sans CJK SC",sans-serif' font-size="35" font-weight="bold" fill="#FF6B6B" textLength="323" lengthAdjust="spacingAndGlyphs">(No thermal stress)</text>
<path d="M589.7 1765.6L591 1618.3M582 1625.8L591 1618.3L599.6 1625.8" stroke="#FF7272" stroke-width="1.6" fill="none"/>
<text transform="translate(1225.4 2512) scale(0.95 1)" text-anchor="middle" font-family='"Liberation Serif","Noto Serif CJK SC",serif' font-size="57" fill="#000">(<tspan font-weight="bold">b</tspan>)</text>
</g>
<g>
<rect x="183.6" y="2951.12" width="2248.1" height="368.56" fill="#FFE0E1"/>
<path d="M272.9 2544.3V3514.8M362.83 2544.3V3514.8M452.76 2544.3V3514.8M542.69 2544.3V3514.8M632.62 2544.3V3514.8M722.55 2544.3V3514.8M812.48 2544.3V3514.8M902.41 2544.3V3514.8M992.34 2544.3V3514.8M1082.27 2544.3V3514.8M1172.2 2544.3V3514.8M1262.13 2544.3V3514.8M1352.06 2544.3V3514.8M1441.99 2544.3V3514.8M1531.92 2544.3V3514.8M1621.85 2544.3V3514.8M1711.78 2544.3V3514.8M1801.71 2544.3V3514.8M1891.64 2544.3V3514.8M1981.57 2544.3V3514.8M2071.5 2544.3V3514.8M2161.43 2544.3V3514.8M2251.36 2544.3V3514.8M2341.29 2544.3V3514.8M189.6 3298H2431.7M189.6 3081.2H2431.7M189.6 2864.4H2431.7M189.6 2647.6H2431.7" stroke="#d9d9d9" stroke-width="2" stroke-dasharray="2 6.4" fill="none"/>
<path d="M241.9 3514.8V2920.12H252.35V3514.8ZM331.83 3514.8V2933.78H342.28V3514.8ZM421.76 3514.8V2943.1H432.21V3514.8ZM511.69 3514.8V2953.72H522.14V3514.8ZM601.62 3514.8V2967.6H612.07V3514.8ZM691.55 3514.8V2979.74H702V3514.8ZM781.48 3514.8V2989.49H791.93V3514.8ZM871.41 3514.8V2974.97H881.86V3514.8ZM961.34 3514.8V2881.09H971.79V3514.8ZM1051.27 3514.8V2825.81H1061.72V3514.8ZM1141.2 3514.8V2770.74H1151.65V3514.8ZM1231.13 3514.8V2738.22H1241.58V3514.8ZM1321.06 3514.8V2720.01H1331.51V3514.8ZM1410.99 3514.8V2710.69H1421.44V3514.8ZM1500.92 3514.8V2699.42H1511.37V3514.8ZM1590.85 3514.8V2765.97H1601.3V3514.8ZM1680.78 3514.8V2753.83H1691.23V3514.8ZM1770.71 3514.8V2771.18H1781.16V3514.8ZM1860.64 3514.8V2776.16H1871.09V3514.8ZM1950.57 3514.8V2805.86H1961.02V3514.8ZM2040.5 3514.8V2807.6H2050.95V3514.8ZM2130.43 3514.8V2828.41H2140.88V3514.8ZM2220.36 3514.8V2846.62H2230.81V3514.8ZM2310.29 3514.8V2861.36H2320.74V3514.8Z" fill="#FFE900" stroke="#000" stroke-width="1.7" stroke-linejoin="miter"/>
<path d="M252.35 3514.8V2920.77H262.8V3514.8ZM342.28 3514.8V2934.43H352.73V3514.8ZM432.21 3514.8V2943.97H442.66V3514.8ZM522.14 3514.8V2954.37H532.59V3514.8ZM612.07 3514.8V2968.25H622.52V3514.8ZM702 3514.8V2980.39H712.45V3514.8ZM791.93 3514.8V2990.14H802.38V3514.8ZM881.86 3514.8V2974.1H892.31V3514.8ZM971.79 3514.8V2879.36H982.24V3514.8ZM1061.72 3514.8V2823.64H1072.17V3514.8ZM1151.65 3514.8V2768.57H1162.1V3514.8ZM1241.58 3514.8V2734.75H1252.03V3514.8ZM1331.51 3514.8V2716.76H1341.96V3514.8ZM1421.44 3514.8V2708.09H1431.89V3514.8ZM1511.37 3514.8V2697.68H1521.82V3514.8ZM1601.3 3514.8V2766.19H1611.75V3514.8ZM1691.23 3514.8V2753.83H1701.68V3514.8ZM1781.16 3514.8V2771.18H1791.61V3514.8ZM1871.09 3514.8V2776.6H1881.54V3514.8ZM1961.02 3514.8V2806.3H1971.47V3514.8ZM2050.95 3514.8V2808.03H2061.4V3514.8ZM2140.88 3514.8V2829.28H2151.33V3514.8ZM2230.81 3514.8V2847.27H2241.26V3514.8ZM2320.74 3514.8V2861.58H2331.19V3514.8Z" fill="#A3DF00" stroke="#000" stroke-width="1.7" stroke-linejoin="miter"/>
<path d="M262.8 3514.8V2921.85H273.25V3514.8ZM352.73 3514.8V2935.08H363.18V3514.8ZM442.66 3514.8V2944.83H453.11V3514.8ZM532.59 3514.8V2955.02H543.04V3514.8ZM622.52 3514.8V2968.9H632.97V3514.8ZM712.45 3514.8V2981.26H722.9V3514.8ZM802.38 3514.8V2991.23H812.83V3514.8ZM892.31 3514.8V2975.18H902.76V3514.8ZM982.24 3514.8V2879.14H992.69V3514.8ZM1072.17 3514.8V2822.12H1082.62V3514.8ZM1162.1 3514.8V2767.92H1172.55V3514.8ZM1252.03 3514.8V2734.32H1262.48V3514.8ZM1341.96 3514.8V2714.81H1352.41V3514.8ZM1431.89 3514.8V2706.14H1442.34V3514.8ZM1521.82 3514.8V2694.21H1532.27V3514.8ZM1611.75 3514.8V2763.8H1622.2V3514.8ZM1701.68 3514.8V2752.96H1712.13V3514.8ZM1791.61 3514.8V2771.18H1802.06V3514.8ZM1881.54 3514.8V2776.81H1891.99V3514.8ZM1971.47 3514.8V2806.95H1981.92V3514.8ZM2061.4 3514.8V2808.68H2071.85V3514.8ZM2151.33 3514.8V2829.93H2161.78V3514.8ZM2241.26 3514.8V2847.92H2251.71V3514.8ZM2331.19 3514.8V2862.67H2341.64V3514.8Z" fill="#00D04E" stroke="#000" stroke-width="1.7" stroke-linejoin="miter"/>
<path d="M273.25 3514.8V2924.67H283.7V3514.8ZM363.18 3514.8V2938.55H373.63V3514.8ZM453.11 3514.8V2948.08H463.56V3514.8ZM543.04 3514.8V2958.49H553.49V3514.8ZM632.97 3514.8V2972.37H643.42V3514.8ZM722.9 3514.8V2984.72H733.35V3514.8ZM812.83 3514.8V2994.7H823.28V3514.8ZM902.76 3514.8V2978.44H913.21V3514.8ZM992.69 3514.8V2880.88H1003.14V3514.8ZM1082.62 3514.8V2821.26H1093.07V3514.8ZM1172.55 3514.8V2765.76H1183V3514.8ZM1262.48 3514.8V2731.5H1272.93V3514.8ZM1352.41 3514.8V2712.64H1362.86V3514.8ZM1442.34 3514.8V2703.53H1452.79V3514.8ZM1532.27 3514.8V2692.48H1542.72V3514.8ZM1622.2 3514.8V2764.89H1632.65V3514.8ZM1712.13 3514.8V2753.4H1722.58V3514.8ZM1802.06 3514.8V2772.91H1812.51V3514.8ZM1891.99 3514.8V2778.76H1902.44V3514.8ZM1981.92 3514.8V2808.9H1992.37V3514.8ZM2071.85 3514.8V2810.63H2082.3V3514.8ZM2161.78 3514.8V2831.88H2172.23V3514.8ZM2251.71 3514.8V2850.52H2262.16V3514.8ZM2341.64 3514.8V2865.05H2352.09V3514.8Z" fill="#00B878" stroke="#000" stroke-width="1.7" stroke-linejoin="miter"/>
<path d="M283.7 3514.8V2927.92H294.15V3514.8ZM373.63 3514.8V2941.36H384.08V3514.8ZM463.56 3514.8V2951.12H474.01V3514.8ZM553.49 3514.8V2961.74H563.94V3514.8ZM643.42 3514.8V2975.62H653.87V3514.8ZM733.35 3514.8V2988.19H743.8V3514.8ZM823.28 3514.8V2997.52H833.73V3514.8ZM913.21 3514.8V2980.17H923.66V3514.8ZM1003.14 3514.8V2877.62H1013.59V3514.8ZM1093.07 3514.8V2819.52H1103.52V3514.8ZM1183 3514.8V2763.59H1193.45V3514.8ZM1272.93 3514.8V2729.77H1283.38V3514.8ZM1362.86 3514.8V2710.91H1373.31V3514.8ZM1452.79 3514.8V2701.58H1463.24V3514.8ZM1542.72 3514.8V2691.18H1553.17V3514.8ZM1632.65 3514.8V2765.54H1643.1V3514.8ZM1722.58 3514.8V2754.05H1733.03V3514.8ZM1812.51 3514.8V2774.21H1822.96V3514.8ZM1902.44 3514.8V2780.72H1912.89V3514.8ZM1992.37 3514.8V2811.5H2002.82V3514.8ZM2082.3 3514.8V2813.24H2092.75V3514.8ZM2172.23 3514.8V2834.48H2182.68V3514.8ZM2262.16 3514.8V2852.91H2272.61V3514.8ZM2352.09 3514.8V2867.87H2362.54V3514.8Z" fill="#009E89" stroke="#000" stroke-width="1.7" stroke-linejoin="miter"/>
<path d="M294.15 3514.8V2937.68H304.6V3514.8ZM384.08 3514.8V2951.55H394.53V3514.8ZM474.01 3514.8V2961.31H484.46V3514.8ZM563.94 3514.8V2972.15H574.39V3514.8ZM653.87 3514.8V2986.46H664.32V3514.8ZM743.8 3514.8V2999.25H754.25V3514.8ZM833.73 3514.8V3009.44H844.18V3514.8ZM923.66 3514.8V2990.14H934.11V3514.8ZM1013.59 3514.8V2886.08H1024.04V3514.8ZM1103.52 3514.8V2825.81H1113.97V3514.8ZM1193.45 3514.8V2767.92H1203.9V3514.8ZM1283.38 3514.8V2732.59H1293.83V3514.8ZM1373.31 3514.8V2714.16H1383.76V3514.8ZM1463.24 3514.8V2703.53H1473.69V3514.8ZM1553.17 3514.8V2692.91H1563.62V3514.8ZM1643.1 3514.8V2770.74H1653.55V3514.8ZM1733.03 3514.8V2759.04H1743.48V3514.8ZM1822.96 3514.8V2780.28H1833.41V3514.8ZM1912.89 3514.8V2787.44H1923.34V3514.8ZM2002.82 3514.8V2818.44H2013.27V3514.8ZM2092.75 3514.8V2820.17H2103.2V3514.8ZM2182.68 3514.8V2841.64H2193.13V3514.8ZM2272.61 3514.8V2860.5H2283.06V3514.8ZM2362.54 3514.8V2875.46H2372.99V3514.8Z" fill="#00828F" stroke="#000" stroke-width="1.7" stroke-linejoin="miter"/>
<path d="M183.6 2951.12H2431.7M183.6 3319.68H2431.7" stroke="#FFC0C0" stroke-width="1.2" stroke-dasharray="2 3" fill="none" opacity="0.45"/>
<path d="M283.04 2977.43L352.69 2989.85M373.06 2992.89L442.53 3001.27M462.98 3003.81L532.47 3012.69M552.83 3015.8L622.48 3028.23M642.79 3031.65L712.38 3042.73M732.76 3045.67L802.27 3054.72M822.14 3052.47L892.75 3026.25M907.86 3013.92L986.89 2887.02M1001.76 2882.45L1072.85 2913.99M1091.11 2912.88L1163.36 2869.69M1181.95 2861.09L1252.38 2837.15M1272.05 2831.06L1342.14 2811.46M1361.92 2805.71L1432.13 2784.55M1447.81 2773.09L1526.1 2658.91M1537.67 2658.96L1616.1 2775.42M1632.12 2783.25L1701.51 2778.4M1721.82 2779.98L1791.67 2795.98M1811.96 2799.34L1881.39 2806.54M1901.28 2811.22L1971.93 2837.79M1991.86 2841.94L2061.21 2845.45M2081.44 2848.66L2151.49 2867.57M2171.47 2872.55L2241.32 2888.55M2261.48 2892.78L2331.17 2906.05" stroke="#FF2A2A" stroke-width="1.6" fill="none"/>
<circle cx="272.9" cy="2975.62" r="7.3" fill="#FB0000"/><circle cx="270.8" cy="2973.22" r="3.4" fill="url(#hl)"/>
<circle cx="362.83" cy="2991.66" r="7.3" fill="#FB0000"/><circle cx="360.73" cy="2989.26" r="3.4" fill="url(#hl)"/>
<circle cx="452.76" cy="3002.5" r="7.3" fill="#FB0000"/><circle cx="450.66" cy="3000.1" r="3.4" fill="url(#hl)"/>
<circle cx="542.69" cy="3013.99" r="7.3" fill="#FB0000"/><circle cx="540.59" cy="3011.59" r="3.4" fill="url(#hl)"/>
<circle cx="632.62" cy="3030.04" r="7.3" fill="#FB0000"/><circle cx="630.52" cy="3027.64" r="3.4" fill="url(#hl)"/>
<circle cx="722.55" cy="3044.34" r="7.3" fill="#FB0000"/><circle cx="720.45" cy="3041.94" r="3.4" fill="url(#hl)"/>
<circle cx="812.48" cy="3056.05" r="7.3" fill="#FB0000"/><circle cx="810.38" cy="3053.65" r="3.4" fill="url(#hl)"/>
<circle cx="902.41" cy="3022.66" r="7.3" fill="#FB0000"/><circle cx="900.31" cy="3020.26" r="3.4" fill="url(#hl)"/>
<circle cx="992.34" cy="2878.28" r="7.3" fill="#FB0000"/><circle cx="990.24" cy="2875.88" r="3.4" fill="url(#hl)"/>
<circle cx="1082.27" cy="2918.17" r="7.3" fill="#FB0000"/><circle cx="1080.17" cy="2915.77" r="3.4" fill="url(#hl)"/>
<circle cx="1172.2" cy="2864.4" r="7.3" fill="#FB0000"/><circle cx="1170.1" cy="2862" r="3.4" fill="url(#hl)"/>
<circle cx="1262.13" cy="2833.83" r="7.3" fill="#FB0000"/><circle cx="1260.03" cy="2831.43" r="3.4" fill="url(#hl)"/>
<circle cx="1352.06" cy="2808.68" r="7.3" fill="#FB0000"/><circle cx="1349.96" cy="2806.28" r="3.4" fill="url(#hl)"/>
<circle cx="1441.99" cy="2781.58" r="7.3" fill="#FB0000"/><circle cx="1439.89" cy="2779.18" r="3.4" fill="url(#hl)"/>
<circle cx="1531.92" cy="2650.42" r="7.3" fill="#FB0000"/><circle cx="1529.82" cy="2648.02" r="3.4" fill="url(#hl)"/>
<circle cx="1621.85" cy="2783.97" r="7.3" fill="#FB0000"/><circle cx="1619.75" cy="2781.57" r="3.4" fill="url(#hl)"/>
<circle cx="1711.78" cy="2777.68" r="7.3" fill="#FB0000"/><circle cx="1709.68" cy="2775.28" r="3.4" fill="url(#hl)"/>
<circle cx="1801.71" cy="2798.28" r="7.3" fill="#FB0000"/><circle cx="1799.61" cy="2795.88" r="3.4" fill="url(#hl)"/>
<circle cx="1891.64" cy="2807.6" r="7.3" fill="#FB0000"/><circle cx="1889.54" cy="2805.2" r="3.4" fill="url(#hl)"/>
<circle cx="1981.57" cy="2841.42" r="7.3" fill="#FB0000"/><circle cx="1979.47" cy="2839.02" r="3.4" fill="url(#hl)"/>
<circle cx="2071.5" cy="2845.97" r="7.3" fill="#FB0000"/><circle cx="2069.4" cy="2843.57" r="3.4" fill="url(#hl)"/>
<circle cx="2161.43" cy="2870.25" r="7.3" fill="#FB0000"/><circle cx="2159.33" cy="2867.85" r="3.4" fill="url(#hl)"/>
<circle cx="2251.36" cy="2890.85" r="7.3" fill="#FB0000"/><circle cx="2249.26" cy="2888.45" r="3.4" fill="url(#hl)"/>
<circle cx="2341.29" cy="2907.98" r="7.3" fill="#FB0000"/><circle cx="2339.19" cy="2905.58" r="3.4" fill="url(#hl)"/>
<rect x="183.6" y="2539.3" width="2248.1" height="975.5" fill="none" stroke="#3a3a3a" stroke-width="2"/>
<path d="M272.9 3514.8V3546.3M362.83 3514.8V3546.3M452.76 3514.8V3546.3M542.69 3514.8V3546.3M632.62 3514.8V3546.3M722.55 3514.8V3546.3M812.48 3514.8V3546.3M902.41 3514.8V3546.3M992.34 3514.8V3546.3M1082.27 3514.8V3546.3M1172.2 3514.8V3546.3M1262.13 3514.8V3546.3M1352.06 3514.8V3546.3M1441.99 3514.8V3546.3M1531.92 3514.8V3546.3M1621.85 3514.8V3546.3M1711.78 3514.8V3546.3M1801.71 3514.8V3546.3M1891.64 3514.8V3546.3M1981.57 3514.8V3546.3M2071.5 3514.8V3546.3M2161.43 3514.8V3546.3M2251.36 3514.8V3546.3M2341.29 3514.8V3546.3M183.6 3514.8H151.6M183.6 3298H151.6M183.6 3081.2H151.6M183.6 2864.4H151.6M183.6 2647.6H151.6" stroke="#262626" stroke-width="2.4" fill="none"/>
<g font-family='"Liberation Sans","Noto Sans CJK SC",sans-serif' font-size="38" fill="#000">
<g text-anchor="middle">
<text transform="translate(272.9 3593.5) scale(0.917 1)">0:00</text>
<text transform="translate(362.83 3593.5) scale(0.917 1)">1:00</text>
<text transform="translate(452.76 3593.5) scale(0.917 1)">2:00</text>
<text transform="translate(542.69 3593.5) scale(0.917 1)">3:00</text>
<text transform="translate(632.62 3593.5) scale(0.917 1)">4:00</text>
<text transform="translate(722.55 3593.5) scale(0.917 1)">5:00</text>
<text transform="translate(812.48 3593.5) scale(0.917 1)">6:00</text>
<text transform="translate(902.41 3593.5) scale(0.917 1)">7:00</text>
<text transform="translate(992.34 3593.5) scale(0.917 1)">8:00</text>
<text transform="translate(1082.27 3593.5) scale(0.917 1)">9:00</text>
<text transform="translate(1172.2 3593.5) scale(0.917 1)">10:00</text>
<text transform="translate(1262.13 3593.5) scale(0.917 1)">11:00</text>
<text transform="translate(1352.06 3593.5) scale(0.917 1)">12:00</text>
<text transform="translate(1441.99 3593.5) scale(0.917 1)">13:00</text>
<text transform="translate(1531.92 3593.5) scale(0.917 1)">14:00</text>
<text transform="translate(1621.85 3593.5) scale(0.917 1)">15:00</text>
<text transform="translate(1711.78 3593.5) scale(0.917 1)">16:00</text>
<text transform="translate(1801.71 3593.5) scale(0.917 1)">17:00</text>
<text transform="translate(1891.64 3593.5) scale(0.917 1)">18:00</text>
<text transform="translate(1981.57 3593.5) scale(0.917 1)">19:00</text>
<text transform="translate(2071.5 3593.5) scale(0.917 1)">20:00</text>
<text transform="translate(2161.43 3593.5) scale(0.917 1)">21:00</text>
<text transform="translate(2251.36 3593.5) scale(0.917 1)">22:00</text>
<text transform="translate(2341.29 3593.5) scale(0.917 1)">23:00</text>
</g>
<g text-anchor="end">
<text transform="translate(130 3523.8) scale(0.917 1)">0</text>
<text transform="translate(130 3307) scale(0.917 1)">10</text>
<text transform="translate(130 3090.2) scale(0.917 1)">20</text>
<text transform="translate(130 2873.4) scale(0.917 1)">30</text>
<text transform="translate(130 2656.6) scale(0.917 1)">40</text>
</g>
</g>
<text transform="translate(1307.25 3653.5) scale(1.035 1)" text-anchor="middle" font-family='"Liberation Sans","Noto Sans CJK SC",sans-serif' font-size="43.5" fill="#000">Time</text>
<text transform="translate(64.3 3244.6) rotate(-90)" font-family='"Liberation Sans","Noto Sans CJK SC",sans-serif' font-size="43.5" fill="#000"><tspan x="-3.4">UTCI</tspan> <tspan x="106">in</tspan> <tspan x="153.1">Autumn</tspan> <tspan x="340.5" letter-spacing="1.4">(℃)</tspan></text>
<g>
<rect x="2059.6" y="2574.5" width="322.5" height="198" fill="#fff" stroke="#333" stroke-width="2"/>
<path d="M2064.4 2601H2152.4" stroke="#FF2A2A" stroke-width="1.6"/>
<circle cx="2108.4" cy="2601" r="10" fill="#fff"/>
<circle cx="2108.4" cy="2601" r="7.3" fill="#FB0000"/><circle cx="2106.3" cy="2598.6" r="3.4" fill="url(#hl)"/>
<rect x="2064.4" y="2627.5" width="88.2" height="44" fill="#FFE900" stroke="#000" stroke-width="1.6"/>
<rect x="2221.1" y="2627.5" width="88.2" height="44" fill="#A3DF00" stroke="#000" stroke-width="1.6"/>
<rect x="2064.4" y="2676.1" width="88.2" height="44" fill="#00D04E" stroke="#000" stroke-width="1.6"/>
<rect x="2221.1" y="2676.1" width="88.2" height="44" fill="#00B878" stroke="#000" stroke-width="1.6"/>
<rect x="2064.4" y="2724.7" width="88.2" height="44" fill="#009E89" stroke="#000" stroke-width="1.6"/>
<rect x="2221.1" y="2724.7" width="88.2" height="44" fill="#00828F" stroke="#000" stroke-width="1.6"/>
<g font-family='"Liberation Sans","Noto Sans CJK SC",sans-serif' font-size="36.4" fill="#000">
<text transform="translate(2162.6 2614) scale(0.84 1)">S1</text>
<text transform="translate(2162.6 2661.8) scale(0.84 1)">S5</text>
<text transform="translate(2319.3 2661.8) scale(0.84 1)">S6</text>
<text transform="translate(2162.6 2710.8) scale(0.84 1)">S7</text>
<text transform="translate(2319.3 2710.8) scale(0.84 1)">S8</text>
<text transform="translate(2162.6 2759.2) scale(0.84 1)">S9</text>
<text transform="translate(2319.3 2759.2) scale(0.84 1)">S10</text>
</g></g>
<text x="261.7" y="2794.3" font-family='"Liberation Sans","Noto Sans CJK SC",sans-serif' font-size="35" font-weight="bold" fill="#FF6B6B" textLength="661.2" lengthAdjust="spacingAndGlyphs">9-26℃: Thermoneutral zone of comfort</text>
<text x="450.9" y="2842.6" font-family='"Liberation Sans","Noto Sans CJK SC",sans-serif' font-size="35" font-weight="bold" fill="#FF6B6B" textLength="322.2" lengthAdjust="spacingAndGlyphs">(No thermal stress)</text>
<path d="M590.2 3021L592.8 2867.4M583.8 2874.9L592.8 2867.4L601.4 2874.9" stroke="#FF7272" stroke-width="1.6" fill="none"/>
<text transform="translate(1225.5 3768.3) scale(0.92 1)" text-anchor="middle" font-family='"Liberation Serif","Noto Serif CJK SC",serif' font-size="57" fill="#000">(<tspan font-weight="bold">c</tspan>)</text>
</g>
</svg></body></html>
